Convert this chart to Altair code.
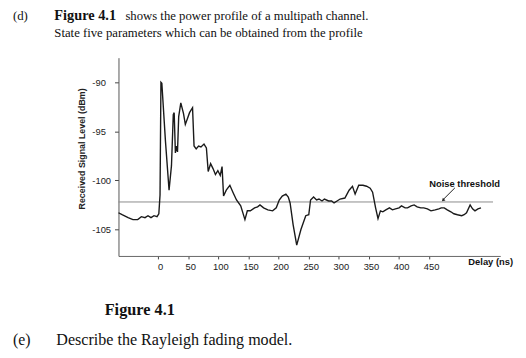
import altair as alt
import pandas as pd

# ---- data ----
delay_ns = [-66, -60, -50, -42, -34, -28, -22, -17, -12, -7, -2, 1, 3, 4.5, 6, 12, 18, 22, 25, 26.5,
            28.5, 30, 32, 34, 37.5, 42, 45, 48, 52, 57, 59.5, 63, 67, 71, 76, 80, 83, 87, 91, 95,
            99, 103, 106, 108.5, 113, 119, 124, 130, 137, 144, 148, 153, 160, 165, 169, 175, 182, 190, 196, 201,
            206, 212, 216, 219, 224, 230, 237, 245, 250, 253, 258, 263, 267, 272, 276, 283, 288, 292, 297, 302,
            310, 317, 322.6, 327, 333, 340, 346, 352, 356, 361, 365, 369, 373, 378, 384, 389, 394, 400, 404, 410,
            414, 420, 425, 430, 436, 441, 447, 453, 460, 466, 470, 475, 480, 486, 491, 497, 504, 508, 512, 518,
            522, 526, 531, 536]
level_dbm = [-103.3, -103.5, -103.8, -104.0, -104.0, -103.7, -103.8, -103.6, -103.8, -103.6, -103.7, -103.4, -101.5, -90.0, -90.1, -96.0, -101.0, -98.5, -93.3, -93.1,
             -97.2, -96.5, -97.1, -93.5, -92.1, -93.2, -94.3, -93.8, -93.1, -92.6, -96.5, -96.8, -96.5, -96.6, -96.3, -96.7, -99.1, -98.3, -98.8, -99.4,
             -99.0, -99.5, -98.6, -101.6, -101.0, -100.5, -101.2, -102.0, -102.6, -104.0, -103.1, -103.1, -102.8, -102.7, -102.5, -102.8, -103.0, -103.1, -102.8, -102.0,
             -101.6, -101.4, -101.7, -102.3, -104.5, -106.6, -105.0, -103.6, -103.5, -102.0, -101.7, -102.0, -101.9, -102.1, -101.9, -102.1, -102.1, -102.3, -102.1, -101.9,
             -101.8, -101.0, -100.6, -101.4, -100.5, -100.5, -100.6, -100.8, -101.2, -102.8, -103.9, -103.1, -103.2, -103.0, -102.8, -103.0, -102.9, -102.8, -102.6, -102.8,
             -102.8, -102.6, -102.5, -102.7, -102.8, -102.8, -102.9, -103.1, -103.0, -102.9, -102.8, -102.8, -103.0, -103.2, -103.4, -103.5, -103.6, -103.5, -103.3, -102.5,
             -102.9, -103.1, -102.9, -102.8]
threshold_dbm = [-102.2]
threshold_start_ns = [-66]
threshold_end_ns = [556]
x_tick_values = [0, 50, 100, 150, 200, 250, 300, 350, 400, 450]
y_tick_values = [-90, -95, -100, -105]

header_label = ["(d)"]
header_bold = ["Figure 4.1"]
header_line1 = ["shows the power profile of a multipath channel."]
header_line2 = ["State five parameters which can be obtained from the profile"]
caption = ["Figure 4.1"]
footer_label = ["(e)"]
footer_text = ["Describe the Rayleigh fading model."]
noise_label = ["Noise threshold"]
x_title = ["Delay (ns)"]
y_title = "Received Signal Level (dBm)"

# ---- chart ----
SANS = "Liberation Sans"
SERIF = "Liberation Serif"

xscale = alt.Scale(domain=[-66, 568], nice=False, zero=False)
yscale = alt.Scale(domain=[-107.7, -87.5], nice=False, zero=False)

xaxis = alt.Axis(values=x_tick_values, title=None, grid=False, domainColor="#666", domainWidth=1,
                 tickColor="#444", tickSize=3, labelPadding=3, labelFont=SANS, labelFontSize=9.5,
                 labelColor="#222", labelOffset=2)
yaxis = alt.Axis(values=y_tick_values, title=y_title, grid=False, domainColor="#555", domainWidth=1,
                 tickColor="#444", tickSize=4, labelAlign="left", labelPadding=23, labelFont=SANS,
                 labelFontSize=9.5, labelColor="#222", labelExpr="'-' + abs(datum.value)",
                 titleFont=SANS, titleFontSize=9, titleFontWeight="bold", titleColor="#222",
                 titleAngle=-90, titleX=-37, titleY=92, titleAlign="center", titleBaseline="middle")

curve_df = pd.DataFrame({"delay": delay_ns, "level": level_dbm, "order": list(range(len(delay_ns)))})
curve = alt.Chart(curve_df).mark_line(color="#1a1a1a", strokeWidth=1.4).encode(
    x=alt.X("delay:Q", scale=xscale, axis=xaxis),
    y=alt.Y("level:Q", scale=yscale, axis=yaxis),
    order="order:Q",
)

thr_df = pd.DataFrame({"delay": threshold_start_ns, "delay_end": threshold_end_ns, "level": threshold_dbm})
threshold = alt.Chart(thr_df).mark_rule(color="#8a8a8a", strokeWidth=1).encode(
    x=alt.X("delay:Q", scale=xscale, axis=xaxis),
    x2="delay_end:Q",
    y=alt.Y("level:Q", scale=yscale, axis=yaxis),
)


def label(texts, x, y, size, weight="normal", font=SERIF, align="left", baseline="alphabetic"):
    return alt.Chart(pd.DataFrame({"t": texts})).mark_text(
        font=font, fontSize=size, fontWeight=weight, align=align, baseline=baseline, color="#111"
    ).encode(x=alt.value(x), y=alt.value(y), text="t:N")


arrow_line = alt.Chart(pd.DataFrame({"a": [0]})).mark_rule(color="#222", strokeWidth=1).encode(
    x=alt.value(341), y=alt.value(132), x2=alt.value(329), y2=alt.value(144))
arrow_head = alt.Chart(pd.DataFrame({"a": [0]})).mark_point(
    shape="triangle-up", filled=True, color="#222", size=14, angle=225, opacity=1).encode(
    x=alt.value(329), y=alt.value(144.5))

texts = [
    label(header_label, -107, -38.5, 13),
    label(header_bold, -65, -38.5, 14.5, "bold"),
    label(header_line1, 7, -38.5, 12.9),
    label(header_line2, -65, -21, 12.9),
    label(caption, -14, 260.5, 16.5, "bold"),
    label(footer_label, -107, 291, 16),
    label(footer_text, -63, 291, 16.3),
    label(noise_label, 315, 131, 9.5, "bold", SANS),
    label(x_title, 400, 210, 9.5, "bold", SANS, align="right"),
]

chart = alt.layer(threshold, curve, arrow_line, arrow_head, *texts).properties(
    width=387, height=201,
    autosize=alt.AutoSizeParams(type="none"),
    padding={"left": 112, "top": 48, "right": 18, "bottom": 95},
    background="white",
).configure_view(stroke=None)

chart.save("out.html", embed_options={"renderer": "svg", "actions": False})
